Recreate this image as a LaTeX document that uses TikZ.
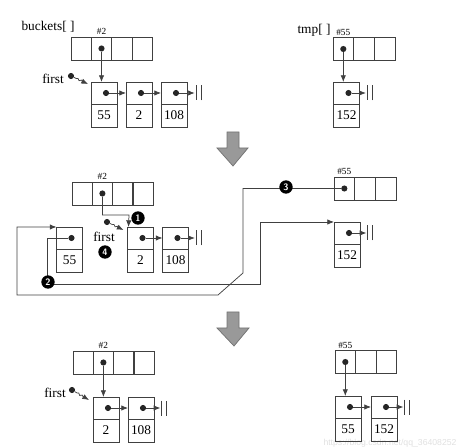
\documentclass[tikz,border=0pt]{standalone}
\usepackage{fontspec}
\setmainfont{Liberation Serif}
\newfontfamily\wmfont{Liberation Sans}
\usetikzlibrary{arrows.meta,positioning,decorations.pathmorphing}

% two short bars closing a list
\newcommand{\nilbars}[1]{\draw[black!75] ([xshift=1pt]#1) ++(0,-7.5) -- ++(0,15) ++(5,0) -- ++(0,-15);}

\begin{document}
\begin{tikzpicture}[x=0.75pt, y=-0.75pt, line width=0.55pt,
    every node/.style={font=\fontsize{10}{12}\selectfont},
    cell/.style={draw=black!75, minimum width=15.3pt, minimum height=17.25pt, inner sep=0pt, outer sep=0pt},
    ptrbox/.style={draw=black!75, minimum width=19.5pt, minimum height=16.5pt, inner sep=0pt, outer sep=0pt},
    valbox/.style={draw=black!75, minimum width=19.5pt, minimum height=17.25pt, inner sep=0pt, outer sep=0pt},
    ptrdot/.style={circle, fill=black!85, inner sep=0pt, minimum size=4.6pt},
    link/.style={draw=black!75, -{Latex[length=5pt, width=4pt]}},
    idx/.style={font=\fontsize{7}{8}\selectfont, inner sep=0pt},
    badge/.style={circle, fill=black, text=white, font=\sffamily\bfseries\fontsize{7}{7}\selectfont, inner sep=0pt, minimum size=10pt},
    firstptr/.style={draw=black!75, decorate, decoration={snake, amplitude=0.6pt, segment length=3pt, pre length=2pt, post length=4pt}, -{Latex[length=5pt, width=4pt]}},
    bigarrow/.style={fill=black!40, draw=black!55}]
  \useasboundingbox (0,0) rectangle (474,448);

  % watermark
  \node[text=black!12, font=\wmfont\fontsize{6.5}{7}\selectfont, inner sep=0pt] (wm) at (390,443) {https://blog.csdn.net/qq\_36408252};

  % ---------- before ----------
  \node (lblB) at (48,27) {buckets[\ ]};
  \foreach \i in {0,...,3}
    \node[cell] (bka\i) at (81.2+20.3*\i,48.5) {};
  \node[idx, above=1.5pt of bka1] {\#2};
  \node[ptrdot] (bkad) at (bka1.center) {};
  \foreach \v/\x in {55/104, 2/139, 108/174} {
    \node[ptrbox] (pa\v) at (\x,93) {};
    \node[valbox, below=0pt of pa\v] (va\v) {\v};
    \node[ptrdot] (da\v) at ([xshift=1.5pt]pa\v.center) {};
  }
  \draw[link] (bkad) -- (bkad |- pa55.north);
  \draw[link] (da55) -- (pa2.west);
  \draw[link] (da2) -- (pa108.west);
  \coordinate (nila) at ([xshift=14pt]da108.center);
  \draw[link] (da108) -- (nila);
  \nilbars{nila}
  \node (fa) at (53,79) {first};
  \node[ptrdot] (fda) at (71,76) {};
  \draw[firstptr] (fda) -- ([shift={(-2.25pt,-1.5pt)}]pa55.north west);

  \node (lblT) at (314,30) {tmp[\ ]};
  \foreach \i in {0,1,2}
    \node[cell] (tpa\i) at (343.3+20.7*\i,49) {};
  \node[idx, above=1.5pt of tpa0] {\#55};
  \node[ptrdot] (tpad) at (tpa0.center) {};
  \node[ptrbox] (pa152) at (346.5,93) {};
  \node[valbox, below=0pt of pa152] (va152) {152};
  \node[ptrdot] (da152) at ([xshift=1.5pt]pa152.center) {};
  \draw[link] (tpad) -- (tpad |- pa152.north);
  \coordinate (nilt) at ([xshift=13pt]da152.center);
  \draw[link] (da152) -- (nilt);
  \nilbars{nilt}

  \draw[bigarrow] (227,132) -- (239,132) -- (239,148) -- (248,148) -- (233,166) -- (217,148) -- (227,148) -- cycle;

  % ---------- relinking ----------
  \foreach \i in {0,...,3}
    \node[cell] (bkb\i) at (82.1+20.3*\i,193.5) {};
  \node[idx, above=1.5pt of bkb1] {\#2};
  \node[ptrdot] (bkbd) at (bkb1.center) {};
  \foreach \v/\x in {55/69.5, 2/140.5, 108/175.5} {
    \node[ptrbox] (pb\v) at (\x,238) {};
    \node[valbox, below=0pt of pb\v] (vb\v) {\v};
    \node[ptrdot] (db\v) at ([xshift=1.5pt]pb\v.center) {};
  }
  \draw[link] (bkbd) |- (129,215) -- ([xshift=0.75pt]pb2.north west);
  \draw[link] (db2) -- (pb108.west);
  \coordinate (nilb) at ([xshift=13pt]db108.center);
  \draw[link] (db108) -- (nilb);
  \nilbars{nilb}
  \node (fb) at (104,237) {first};
  \node[ptrdot] (fdb) at (107,222) {};
  \draw[firstptr] (fdb) -- ([shift={(-3pt,-2.25pt)}]pb2.north west);

  \foreach \i in {0,1,2}
    \node[cell] (tpb\i) at (344.3+20.7*\i,188.5) {};
  \node[idx, above=1.5pt of tpb0] {\#55};
  \node[ptrdot] (tpbd) at (tpb0.center) {};
  \node[ptrbox] (pb152) at (347,233) {};
  \node[valbox, below=0pt of pb152] (vb152) {152};
  \node[ptrdot] (db152) at ([xshift=1.5pt]pb152.center) {};
  \coordinate (nilu) at ([xshift=13pt]db152.center);
  \draw[link] (db152) -- (nilu);
  \nilbars{nilu}

  % moved links
  \draw[link] (db55) -| (47,284) -| (260,222) -- (pb152.north west);
  \draw[link] (tpbd) -| (243,273) -- (218,295) -| (17,227) -- (pb55.north west);

  \node[badge] (s1) at (138,218) {1};
  \node[badge] (s2) at (48,282) {2};
  \node[badge] (s3) at (286,187) {3};
  \node[badge] (s4) at (105,252) {4};

  \draw[bigarrow] (227,312) -- (239,312) -- (239,328) -- (249,328) -- (234,346) -- (217,328) -- (227,328) -- cycle;

  % ---------- after ----------
  \foreach \i in {0,...,3}
    \node[cell] (bkc\i) at (83.1+20.3*\i,362.5) {};
  \node[idx, above=1.5pt of bkc1] {\#2};
  \node[ptrdot] (bkcd) at (bkc1.center) {};
  \foreach \v/\x in {2/106, 108/141} {
    \node[ptrbox] (pc\v) at (\x,408) {};
    \node[valbox, below=0pt of pc\v] (vc\v) {\v};
    \node[ptrdot] (dc\v) at ([xshift=1.5pt]pc\v.center) {};
  }
  \draw[link] (bkcd) -- (bkcd |- pc2.north);
  \draw[link] (dc2) -- (pc108.west);
  \coordinate (nilc) at ([xshift=13pt]dc108.center);
  \draw[link] (dc108) -- (nilc);
  \nilbars{nilc}
  \node (fc) at (55,393) {first};
  \node[ptrdot] (fdc) at (72,390) {};
  \draw[firstptr] (fdc) -- ([shift={(-3pt,-2.25pt)}]pc2.north west);

  \foreach \i in {0,1,2}
    \node[cell] (tpc\i) at (345.3+20.5*\i,362) {};
  \node[idx, above=1.5pt of tpc0] {\#55};
  \node[ptrdot] (tpcd) at (tpc0.center) {};
  \foreach \v/\x in {55/348, 152/384} {
    \node[ptrbox] (pc\v) at (\x,407) {};
    \node[valbox, below=0pt of pc\v] (vc\v) {\v};
    \node[ptrdot] (dc\v) at ([xshift=1.5pt]pc\v.center) {};
  }
  \draw[link] (tpcd) -- (tpcd |- pc55.north);
  \draw[link] (dc55) -- (pc152.west);
  \coordinate (nild) at ([xshift=13pt]dc152.center);
  \draw[link] (dc152) -- (nild);
  \nilbars{nild}
\end{tikzpicture}
\end{document}
